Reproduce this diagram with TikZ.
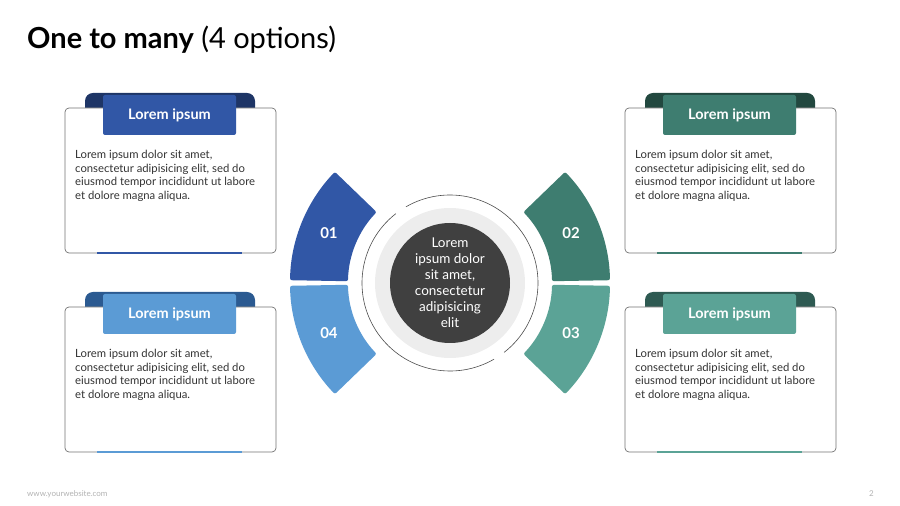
\documentclass[tikz,border=0pt]{standalone}
\usepackage{fontspec}
\setmainfont{Lato}
\begin{document}
\begin{tikzpicture}[x=1pt,y=1pt,
  card/.style={draw=black!55,line width=0.7pt,rounded corners=4pt,fill=white},
  tabtxt/.style={font=\bfseries\fontsize{14.5}{16}\selectfont,text=white},
  body/.style={font=\fontsize{11.3}{13.6}\selectfont,text=black!80,align=left,anchor=north west,inner sep=0pt},
  num/.style={font=\bfseries\fontsize{15}{17}\selectfont,text=white}]
\definecolor{cA}{HTML}{3157A6}\definecolor{cAd}{HTML}{1E3566}
\definecolor{cB}{HTML}{3E7D70}\definecolor{cBd}{HTML}{22483F}
\definecolor{cC}{HTML}{5BA396}\definecolor{cCd}{HTML}{2E5A52}
\definecolor{cD}{HTML}{5B9BD5}\definecolor{cDd}{HTML}{2B5A91}
\useasboundingbox (0,0) rectangle (900,506);
\node[anchor=west,inner sep=0pt,font=\fontsize{29}{32}\selectfont] (title) at (27,466) {\textbf{One to many} (4 options)};
\node[anchor=west,inner sep=0pt,font=\fontsize{8}{9}\selectfont,text=black!30] (web) at (27,12) {www.yourwebsite.com};
\node[anchor=east,inner sep=0pt,font=\fontsize{8}{9}\selectfont,text=black!30] (pg) at (874,12) {2};
% cards
\foreach \x/\y/\c/\cd/\n in {65/398/cA/cAd/a,65/199/cD/cDd/d,625/398/cB/cBd/b,625/199/cC/cCd/c}{
  \fill[\cd,rounded corners=8pt] (\x+20,\y-10) rectangle (\x+190,\y+15);
  \draw[card] (\x,\y) rectangle (\x+211,\y-145);
  \fill[\c,rounded corners=2pt] (\x+38,\y-27) rectangle (\x+171,\y+13);
  \draw[\c,line width=1.5pt] (\x+32,\y-145) -- (\x+177,\y-145);
  \node[tabtxt] (t\n) at (\x+104.5,\y-7) {Lorem ipsum};
  \node[body] (b\n) at (\x+10,\y-42) {Lorem ipsum dolor sit amet,\\consectetur adipisicing elit, sed do\\eiusmod tempor incididunt ut labore\\et dolore magna aliqua.};
}
% segments
\coordinate (o) at (450,223);
\foreach \a/\b/\c/\n/\l in {136/179/cA/01/a,181/224/cD/04/d,1/44/cB/02/b,-44/-1/cC/03/c}{
  \pgfmathsetmacro\m{(\a+\b)/2}
  \fill[\c,rounded corners=2pt] ([shift={(\a:102)}]o) arc[start angle=\a,end angle=\b,radius=102] -- ([shift={(\b:160)}]o) arc[start angle=\b,end angle=\a,radius=160] -- cycle;
  \node[num] (n\n) at ([shift={(\m:131)}]o) {\n};
}
\draw[black!70,line width=0.6pt] ([shift={(-52:88)}]o) arc[start angle=-52,end angle=120,radius=88];
\draw[black!70,line width=0.6pt] ([shift={(128:88)}]o) arc[start angle=128,end angle=300,radius=88];
\fill[black!7] (o) circle (75);
\fill[black!75] (o) circle (60);
\node[align=center,text=white,font=\fontsize{13.5}{16}\selectfont] (ctr) at (o) {Lorem\\ipsum dolor\\sit amet,\\consectetur\\adipisicing\\elit};
\end{tikzpicture}
\end{document}
